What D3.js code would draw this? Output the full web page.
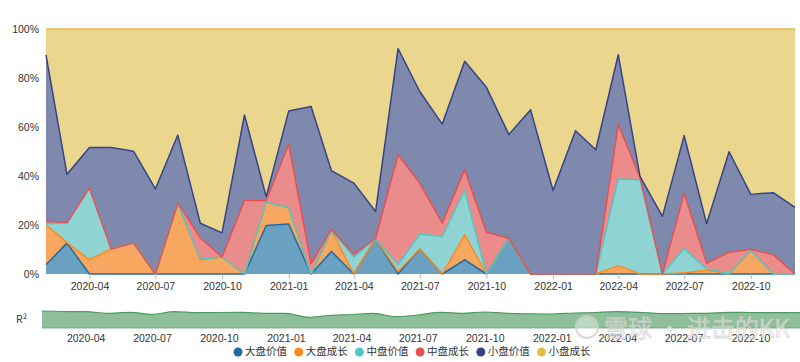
<!DOCTYPE html>
<html>
<head>
<meta charset="utf-8">
<script src="https://cdn.jsdelivr.net/npm/d3@7"></script>
<style>
  body { margin: 0; background: #fff; }
  svg { display: block; font-family: "Noto Sans CJK SC", "Noto Sans", sans-serif; }
  .tick text { fill: #333; font-size: 10.5px; }
</style>
</head>
<body>
<div id="chart"></div>
<script>
// monthly dates 2020-02 .. 2022-12
var months = ["2020-02","2020-03","2020-04","2020-05","2020-06","2020-07","2020-08","2020-09","2020-10","2020-11","2020-12",
  "2021-01","2021-02","2021-03","2021-04","2021-05","2021-06","2021-07","2021-08","2021-09","2021-10","2021-11","2021-12",
  "2022-01","2022-02","2022-03","2022-04","2022-05","2022-06","2022-07","2022-08","2022-09","2022-10","2022-11","2022-12"];

var seriesNames = ["大盘价值", "大盘成长", "中盘价值", "中盘成长", "小盘价值", "小盘成长"];

// weights in %
var largeValue  = [3.8,12.6,0,0,0,0,0,0,0,0,19.8,20.4,0,9.2,0,14.3,0,10.2,0,5.8,0,14.5,0,0,0,0,0,0,0,0,0,0,0,0,0];
var largeGrowth = [16.3,0.2,5.8,10.2,12.6,0,28.6,5.8,6.9,0,9.6,6.5,0,8.6,0,0,1.0,0,0,10.2,0,0,0,0,0,0,3.4,0,0,0.5,1.5,0,9.6,0,0];
var midValue    = [0.4,8.0,29.3,0,0,0,0,0.2,0,0,0,0.1,0,0,6.9,0.1,2.8,6.1,15.3,18.0,0,0,0,0,0,0,35.4,38.5,0,9.9,0.5,0.3,0,0,0];
var midGrowth   = [1.0,0.2,0,0,0,0,0.4,8.7,0,30.0,0.6,26.0,4.2,0.5,1.1,0.2,44.9,20.8,5.5,8.6,17.0,0.1,0,0,0,0,22.2,1.0,0,22.6,2.4,8.6,0.5,7.9,0];
var smallValue  = [67.9,19.7,16.5,41.4,37.5,34.7,27.7,6.0,9.9,34.9,1.6,13.5,64.2,23.9,29.1,10.9,43.3,37.4,40.4,44.2,59.2,42.3,67.0,34.1,58.5,50.7,28.5,0.3,23.5,23.5,16.1,41.0,22.4,25.3,27.2];
var smallGrowth = [10.6,59.3,48.4,48.4,49.9,65.3,43.3,79.3,83.2,35.1,68.4,33.5,31.6,57.8,62.9,74.5,8.0,25.5,38.8,13.2,23.8,43.1,33.0,65.9,41.5,49.3,10.5,60.2,76.5,43.5,79.5,50.1,67.5,66.8,72.8];

// R² of the style regression, monthly
var r2Dates = months.concat(["2022-12-08"]);
var r2Values = [0.944,0.917,0.906,0.817,0.872,0.761,0.906,0.850,0.861,0.872,0.817,0.817,0.594,0.694,0.750,0.817,0.628,0.722,
  0.872,0.817,0.889,0.817,0.789,0.778,0.833,0.861,0.906,0.872,0.794,0.806,0.817,0.872,0.861,0.850,0.850,0.850];

var yTicks = [0, 20, 40, 60, 80, 100];

var lineColors = ["#1f6aa5", "#ff8a1c", "#4ec8c5", "#e8504f", "#34438a", "#e6bb44"];
var fillColors = ["#6aa0c0", "#f7a760", "#8fd4d2", "#ea8b8c", "#7f88ad", "#ebd68e"];

var width = 800, height = 362;
var parse = d3.timeParse("%Y-%m");
var parseDay = d3.timeParse("%Y-%m-%d");

var columns = [largeValue, largeGrowth, midValue, midGrowth, smallValue, smallGrowth];
var table = months.map(function(m, i) {
  var row = { date: parse(m) };
  seriesNames.forEach(function(s, k) { row[s] = columns[k][i]; });
  return row;
});

var svg = d3.select("#chart").append("svg")
  .attr("width", width)
  .attr("height", height);

var x = d3.scaleTime()
  .domain([parse("2020-02"), parse("2022-12")])
  .range([46, 795]);

var y = d3.scaleLinear()
  .domain([0, 100])
  .range([274, 29]);

var stacked = d3.stack().keys(seriesNames)(table);

var area = d3.area()
  .x(function(d) { return x(d.data.date); })
  .y0(function(d) { return y(d[0]); })
  .y1(function(d) { return y(d[1]); });

var line = d3.line()
  .x(function(d) { return x(d.data.date); })
  .y(function(d) { return y(d[1]); });

svg.append("g").selectAll("path")
  .data(stacked)
  .enter().append("path")
  .attr("d", area)
  .attr("fill", function(d, i) { return fillColors[i]; });

svg.append("g").selectAll("path")
  .data(stacked)
  .enter().append("path")
  .attr("d", line)
  .attr("fill", "none")
  .attr("stroke", function(d, i) { return lineColors[i]; })
  .attr("stroke-width", 1.5)
  .attr("stroke-linejoin", "round");

// axes
var xAxis = svg.append("g")
  .attr("transform", "translate(0,274)")
  .call(d3.axisBottom(x).ticks(d3.timeMonth.every(3)).tickFormat(d3.timeFormat("%Y-%m")).tickSize(5).tickPadding(4));
xAxis.select(".domain").remove();
xAxis.selectAll(".tick line").attr("stroke", "#bbb");

var yAxis = svg.append("g")
  .attr("transform", "translate(44,0)")
  .call(d3.axisLeft(y).tickValues(yTicks).tickFormat(function(d) { return d + "%"; }).tickSize(0).tickPadding(5));
yAxis.select(".domain").remove();

// R² panel
var x2 = d3.scaleTime()
  .domain([parse("2020-02"), parseDay("2022-12-08")])
  .range([42, 800]);
var y2 = d3.scaleLinear().domain([0, 1]).range([328, 310]);

var r2Data = r2Dates.map(function(d, i) {
  return { date: d.length > 7 ? parseDay(d) : parse(d), v: r2Values[i] };
});

svg.append("path")
  .datum(r2Data)
  .attr("fill", "#8fbf98")
  .attr("d", d3.area().curve(d3.curveMonotoneX)
    .x(function(d) { return x2(d.date); })
    .y0(y2(0))
    .y1(function(d) { return y2(d.v); }));

svg.append("path")
  .datum(r2Data)
  .attr("fill", "none")
  .attr("stroke", "#4e9a5f")
  .attr("stroke-width", 1.2)
  .attr("d", d3.line().curve(d3.curveMonotoneX)
    .x(function(d) { return x2(d.date); })
    .y(function(d) { return y2(d.v); }));

svg.append("line")
  .attr("x1", 42).attr("x2", 800)
  .attr("y1", 328).attr("y2", 328)
  .attr("stroke", "#6b9f78").attr("stroke-width", 0.8);

var x2Axis = svg.append("g")
  .attr("transform", "translate(0,328)")
  .call(d3.axisBottom(x2).ticks(d3.timeMonth.every(3)).tickFormat(d3.timeFormat("%Y-%m")).tickSize(0).tickPadding(7));
x2Axis.select(".domain").remove();

svg.append("text")
  .attr("x", 27).attr("y", 320)
  .attr("text-anchor", "end")
  .attr("dominant-baseline", "middle")
  .attr("font-size", 10.5)
  .attr("fill", "#333")
  .text("R²");

// legend
var legend = svg.append("g").attr("transform", "translate(238,352)");
var item = legend.selectAll("g")
  .data(seriesNames)
  .enter().append("g")
  .attr("transform", function(d, i) { return "translate(" + (i * 60.7) + ",0)"; });
item.append("circle")
  .attr("r", 4.5)
  .attr("fill", function(d, i) { return lineColors[i]; });
item.append("text")
  .attr("x", 7)
  .attr("dominant-baseline", "middle")
  .attr("font-size", 10.5)
  .attr("fill", "#333")
  .text(function(d) { return d; });

// platform watermark
var wm = svg.append("g").attr("opacity", 0.8);
wm.append("circle")
  .attr("cx", 587).attr("cy", 327).attr("r", 11)
  .attr("fill", "rgba(255,255,255,0.5)")
  .attr("stroke", "#d0d0d0").attr("stroke-width", 2);
wm.append("text")
  .attr("x", 604).attr("y", 337)
  .attr("font-size", 24)
  .attr("fill", "rgba(255,255,255,0.6)")
  .attr("stroke", "#cccccc")
  .attr("stroke-width", 0.8)
  .text("雪球 · 进击的KK");
</script>
</body>
</html>
